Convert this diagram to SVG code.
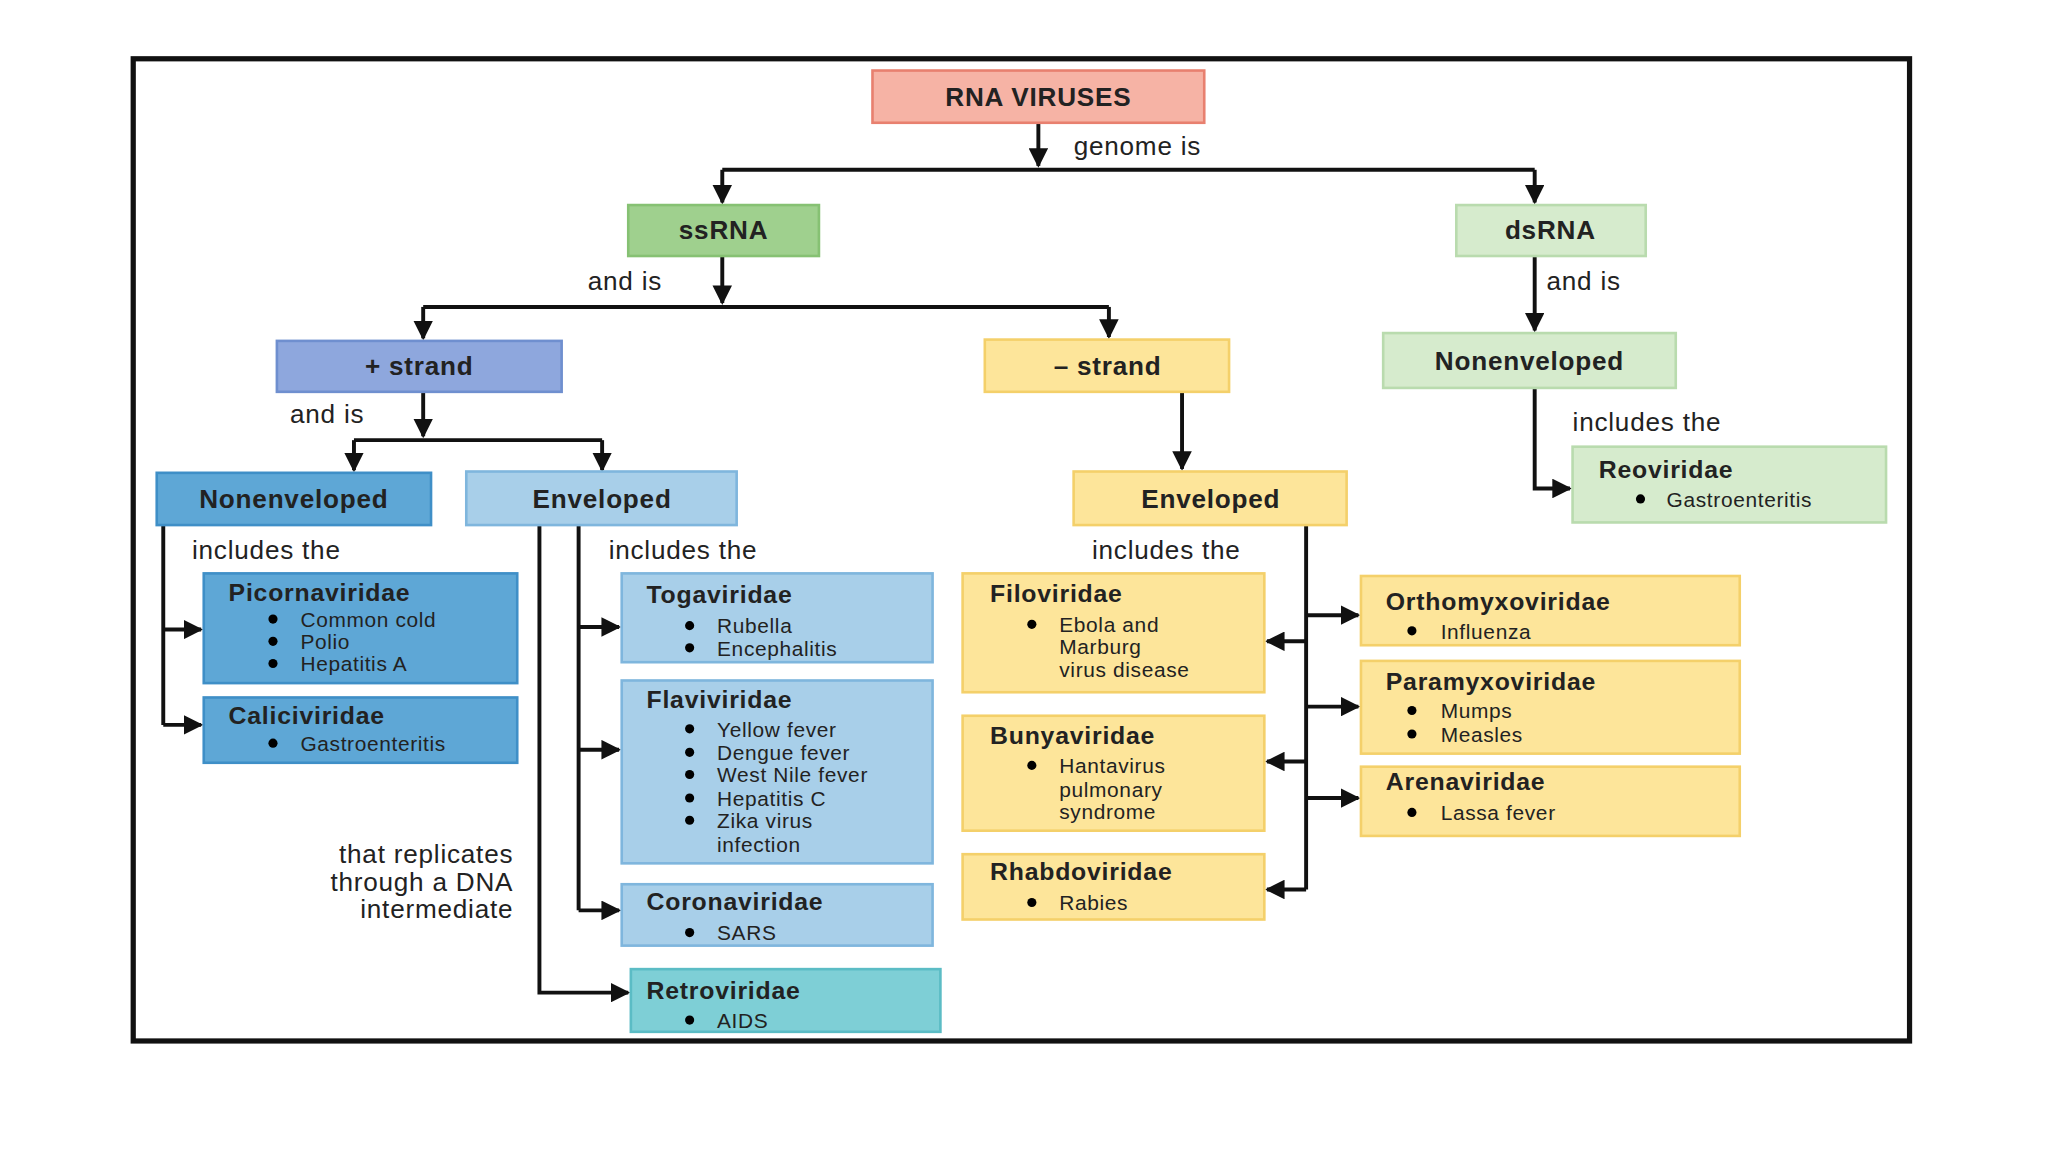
<svg xmlns="http://www.w3.org/2000/svg" width="2048" height="1152" viewBox="0 0 2048 1152">
<defs>
<marker id="a" viewBox="0 0 10 10" refX="9" refY="5" markerWidth="5" markerHeight="5" orient="auto" markerUnits="strokeWidth"><path d="M0,0L10,5L0,10z" fill="#111"/></marker>
<style>
text{font-family:"Liberation Sans",Arial,sans-serif;fill:#222}
.t{font-size:20px;font-weight:bold;letter-spacing:0.6px}
.h{font-size:19px;font-weight:bold;letter-spacing:0.6px}
.i{font-size:16px;letter-spacing:0.5px}
.l{font-size:20px;letter-spacing:0.6px}
.c{text-anchor:middle}
.e line,.e path{stroke:#111;stroke-width:3;fill:none}
.ar{marker-end:url(#a)}
rect{stroke-width:2}
.rd{fill:#f6b3a5;stroke:#e8806f}.gn{fill:#9fd08e;stroke:#86c173}.lg{fill:#d6ebcd;stroke:#b9dbae}
.pu{fill:#8ea7dd;stroke:#6f8fcf}.ye{fill:#fde59a;stroke:#f4d06a}.db{fill:#5ea7d6;stroke:#3f8fc7}
.lb{fill:#a8cfe9;stroke:#7fb6dd}.tq{fill:#7ecfd6;stroke:#5bbcc5}
</style>
</defs>
<rect x="0" y="0" width="2048" height="1152" fill="#fff" stroke="none"/>
<g transform="scale(1.30612)">
<rect x="102" y="45" width="1360" height="752" fill="#fff" stroke="#111" style="stroke-width:4"/>
<g class="e">
<path class="ar" d="M795,94V127"/><path d="M553,130H1175"/><path class="ar" d="M553,130V155"/><path class="ar" d="M1175,130V155"/>
<path class="ar" d="M553,196V232"/><path d="M324,235H849"/><path class="ar" d="M324,235V259"/><path class="ar" d="M849,235V258"/>
<path class="ar" d="M1175,196V253"/>
<path class="ar" d="M324,300V334"/><path d="M271,337H461"/><path class="ar" d="M271,337V360"/><path class="ar" d="M461,337V360"/>
<path class="ar" d="M905,300V359"/>
<path class="ar" d="M1175,297V374H1202"/>
<path d="M125,402V555"/><path class="ar" d="M125,482H154"/><path class="ar" d="M125,555H154"/>
<path d="M443,402V697"/><path class="ar" d="M443,480H474"/><path class="ar" d="M443,574H474"/><path class="ar" d="M443,697H474"/>
<path class="ar" d="M413,402V760H481"/>
<path d="M1000,402V681"/><path class="ar" d="M1000,491H970"/><path class="ar" d="M1000,583H970"/><path class="ar" d="M1000,681H970"/>
<path class="ar" d="M1000,471H1040"/><path class="ar" d="M1000,541H1040"/><path class="ar" d="M1000,611H1040"/>
</g>
<g>
<text class="l" x="822" y="119">genome is</text>
<text class="l" x="450" y="222">and is</text>
<text class="l" x="1184" y="222">and is</text>
<text class="l" x="222" y="324">and is</text>
<text class="l" x="1204" y="330">includes the</text>
<text class="l" x="147" y="428">includes the</text>
<text class="l" x="466" y="428">includes the</text>
<text class="l" x="836" y="428">includes the</text>
<text class="l" x="393" y="661" text-anchor="end">that replicates</text>
<text class="l" x="393" y="682" text-anchor="end">through a DNA</text>
<text class="l" x="393" y="703" text-anchor="end">intermediate</text>
</g>
<g id="rna"><rect class="rd" x="668" y="54" width="254" height="40"/><text class="t c" x="795" y="81">RNA VIRUSES</text></g>
<g id="ssrna"><rect class="gn" x="481" y="157" width="146" height="39"/><text class="t c" x="554" y="183">ssRNA</text></g>
<g id="dsrna"><rect class="lg" x="1115" y="157" width="145" height="39"/><text class="t c" x="1187" y="183">dsRNA</text></g>
<g id="plus"><rect class="pu" x="212" y="261" width="218" height="39"/><text class="t c" x="321" y="287">+ strand</text></g>
<g id="minus"><rect class="ye" x="754" y="260" width="187" height="40"/><text class="t c" x="848" y="287">– strand</text></g>
<g id="dsnon"><rect class="lg" x="1059" y="255" width="224" height="42"/><text class="t c" x="1171" y="283">Nonenveloped</text></g>
<g id="pnon"><rect class="db" x="120" y="362" width="210" height="40"/><text class="t c" x="225" y="389">Nonenveloped</text></g>
<g id="penv"><rect class="lb" x="357" y="361" width="207" height="41"/><text class="t c" x="461" y="389">Enveloped</text></g>
<g id="menv"><rect class="ye" x="822" y="361" width="209" height="41"/><text class="t c" x="927" y="389">Enveloped</text></g>
<g id="reo"><rect class="lg" x="1204" y="342" width="240" height="58"/><text class="h" x="1224" y="366">Reoviridae</text><circle cx="1256" cy="382" r="3.5"/><text class="i" x="1276" y="388">Gastroenteritis</text></g>
<g id="picorna"><rect class="db" x="156" y="439" width="240" height="84"/><text class="h" x="175" y="460">Picornaviridae</text>
<circle cx="209" cy="474" r="3.5"/><text class="i" x="230" y="480">Common cold</text>
<circle cx="209" cy="491" r="3.5"/><text class="i" x="230" y="497">Polio</text>
<circle cx="209" cy="508" r="3.5"/><text class="i" x="230" y="514">Hepatitis A</text></g>
<g id="calici"><rect class="db" x="156" y="534" width="240" height="50"/><text class="h" x="175" y="554">Caliciviridae</text><circle cx="209" cy="569" r="3.5"/><text class="i" x="230" y="575">Gastroenteritis</text></g>
<g id="toga"><rect class="lb" x="476" y="439" width="238" height="68"/><text class="h" x="495" y="462">Togaviridae</text>
<circle cx="528" cy="479" r="3.5"/><text class="i" x="549" y="485">Rubella</text>
<circle cx="528" cy="496" r="3.5"/><text class="i" x="549" y="502">Encephalitis</text></g>
<g id="flavi"><rect class="lb" x="476" y="521" width="238" height="140"/><text class="h" x="495" y="542">Flaviviridae</text>
<circle cx="528" cy="558" r="3.5"/><text class="i" x="549" y="564">Yellow fever</text>
<circle cx="528" cy="576" r="3.5"/><text class="i" x="549" y="582">Dengue fever</text>
<circle cx="528" cy="593" r="3.5"/><text class="i" x="549" y="599">West Nile fever</text>
<circle cx="528" cy="611" r="3.5"/><text class="i" x="549" y="617">Hepatitis C</text>
<circle cx="528" cy="628" r="3.5"/><text class="i" x="549" y="634">Zika virus</text>
<text class="i" x="549" y="652">infection</text></g>
<g id="corona"><rect class="lb" x="476" y="677" width="238" height="47"/><text class="h" x="495" y="697">Coronaviridae</text><circle cx="528" cy="714" r="3.5"/><text class="i" x="549" y="720">SARS</text></g>
<g id="retro"><rect class="tq" x="483" y="742" width="237" height="48"/><text class="h" x="495" y="765">Retroviridae</text><circle cx="528" cy="781" r="3.5"/><text class="i" x="549" y="787">AIDS</text></g>
<g id="filo"><rect class="ye" x="737" y="439" width="231" height="91"/><text class="h" x="758" y="461">Filoviridae</text>
<circle cx="790" cy="478" r="3.5"/><text class="i" x="811" y="484">Ebola and</text>
<text class="i" x="811" y="501">Marburg</text><text class="i" x="811" y="518">virus disease</text></g>
<g id="bunya"><rect class="ye" x="737" y="548" width="231" height="88"/><text class="h" x="758" y="570">Bunyaviridae</text>
<circle cx="790" cy="586" r="3.5"/><text class="i" x="811" y="592">Hantavirus</text>
<text class="i" x="811" y="610">pulmonary</text><text class="i" x="811" y="627">syndrome</text></g>
<g id="rhabdo"><rect class="ye" x="737" y="654" width="231" height="50"/><text class="h" x="758" y="674">Rhabdoviridae</text><circle cx="790" cy="691" r="3.5"/><text class="i" x="811" y="697">Rabies</text></g>
<g id="ortho"><rect class="ye" x="1042" y="441" width="290" height="53"/><text class="h" x="1061" y="467">Orthomyxoviridae</text><circle cx="1081" cy="483" r="3.5"/><text class="i" x="1103" y="489">Influenza</text></g>
<g id="para"><rect class="ye" x="1042" y="506" width="290" height="71"/><text class="h" x="1061" y="528">Paramyxoviridae</text>
<circle cx="1081" cy="544" r="3.5"/><text class="i" x="1103" y="550">Mumps</text>
<circle cx="1081" cy="562" r="3.5"/><text class="i" x="1103" y="568">Measles</text></g>
<g id="arena"><rect class="ye" x="1042" y="587" width="290" height="53"/><text class="h" x="1061" y="605">Arenaviridae</text><circle cx="1081" cy="622" r="3.5"/><text class="i" x="1103" y="628">Lassa fever</text></g>
</g>
</svg>
